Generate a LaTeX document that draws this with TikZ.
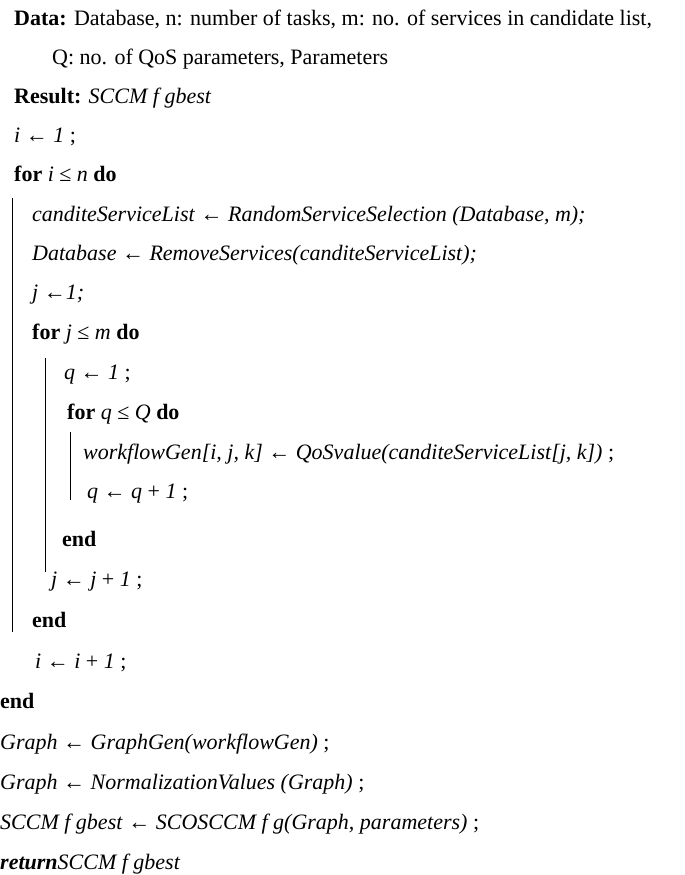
\documentclass[tikz,border=0pt]{standalone}
\usepackage{fontspec}
\setmainfont{Liberation Serif}
\begin{document}
\begin{tikzpicture}[x=1pt,y=-1pt,
  ln/.style={anchor=base west,inner sep=0pt,font=\fontsize{22}{26}\selectfont},
  bar/.style={line width=1pt}]
\useasboundingbox (0,0) rectangle (685,875);
\node[ln] (l1) at (14,26) {\textbf{Data:} Database, n: number of tasks, m: no. of services in candidate list,};
\node[ln] (l2) at (52,65) {Q: no. of QoS parameters, Parameters};
\node[ln] (l3) at (14,103) {\textbf{Result:} \textit{SCCM f gbest}};
\node[ln] (l4) at (14,142) {\textit{i} ← \textit{1} ;};
\node[ln] (l5) at (14,181) {\textbf{for} \textit{i} ≤ \textit{n} \textbf{do}};
\node[ln] (l6) at (32,221) {\textit{canditeServiceList} ← \textit{RandomServiceSelection (Database, m);}};
\node[ln] (l7) at (32,260) {\textit{Database} ← \textit{RemoveServices(canditeServiceList);}};
\node[ln] (l8) at (32,299) {\textit{j} ←\textit{1;}};
\node[ln] (l9) at (32,339) {\textbf{for} \textit{j} ≤ \textit{m} \textbf{do}};
\node[ln] (l10) at (64,379) {\textit{q} ← \textit{1} ;};
\node[ln] (l11) at (67,419) {\textbf{for} \textit{q} ≤ \textit{Q} \textbf{do}};
\node[ln] (l12) at (83,459) {\textit{workflowGen[i, j, k]} ← \textit{QoSvalue(canditeServiceList[j, k])} ;};
\node[ln] (l13) at (87,498) {\textit{q} ← \textit{q} + \textit{1} ;};
\node[ln] (l14) at (62,546) {\textbf{end}};
\node[ln] (l15) at (51,586) {\textit{j} ← \textit{j} + \textit{1} ;};
\node[ln] (l16) at (32,627) {\textbf{end}};
\node[ln] (l17) at (35,668) {\textit{i} ← \textit{i} + \textit{1} ;};
\node[ln] (l18) at (0,708) {\textbf{end}};
\node[ln] (l19) at (0,749) {\textit{Graph} ← \textit{GraphGen(workflowGen)} ;};
\node[ln] (l20) at (0,789) {\textit{Graph} ← \textit{NormalizationValues (Graph)} ;};
\node[ln] (l21) at (0,829) {\textit{SCCM f gbest} ← \textit{SCOSCCM f g(Graph, parameters)} ;};
\node[ln] (l22) at (0,869) {\textbf{\textit{return}}\textit{SCCM f gbest}};
\coordinate (b1a) at (12,198); \coordinate (b1b) at (12,632);
\coordinate (b2a) at (45,358); \coordinate (b2b) at (45,572);
\coordinate (b3a) at (70,432); \coordinate (b3b) at (70,500);
\draw[bar] (b1a) -- (b1b);
\draw[bar] (b2a) -- (b2b);
\draw[bar] (b3a) -- (b3b);
\end{tikzpicture}
\end{document}
